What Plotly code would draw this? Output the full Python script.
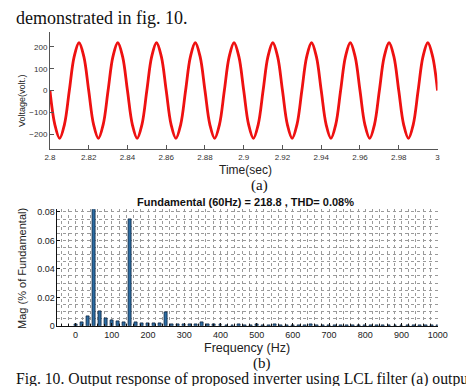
import plotly.graph_objects as go

# ---------------- data ----------------
# (a) output voltage, read at 1/8-period steps (2.5 ms)
time_s = [2.8000, 2.8025, 2.8050, 2.8075, 2.8100, 2.8125, 2.8150, 2.8175,
          2.8200, 2.8225, 2.8250, 2.8275, 2.8300, 2.8325, 2.8350, 2.8375,
          2.8400, 2.8425, 2.8450, 2.8475, 2.8500, 2.8525, 2.8550, 2.8575,
          2.8600, 2.8625, 2.8650, 2.8675, 2.8700, 2.8725, 2.8750, 2.8775,
          2.8800, 2.8825, 2.8850, 2.8875, 2.8900, 2.8925, 2.8950, 2.8975,
          2.9000, 2.9025, 2.9050, 2.9075, 2.9100, 2.9125, 2.9150, 2.9175,
          2.9200, 2.9225, 2.9250, 2.9275, 2.9300, 2.9325, 2.9350, 2.9375,
          2.9400, 2.9425, 2.9450, 2.9475, 2.9500, 2.9525, 2.9550, 2.9575,
          2.9600, 2.9625, 2.9650, 2.9675, 2.9700, 2.9725, 2.9750, 2.9775,
          2.9800, 2.9825, 2.9850, 2.9875, 2.9900, 2.9925, 2.9950, 2.9975,
          3.0000]
voltage_v = [0, -155, -219, -155, 0, 155, 219, 155,
             0, -155, -219, -155, 0, 155, 219, 155,
             0, -155, -219, -155, 0, 155, 219, 155,
             0, -155, -219, -155, 0, 155, 219, 155,
             0, -155, -219, -155, 0, 155, 219, 155,
             0, -155, -219, -155, 0, 155, 219, 155,
             0, -155, -219, -155, 0, 155, 219, 155,
             0, -155, -219, -155, 0, 155, 219, 155,
             0, -155, -219, -155, 0, 155, 219, 155,
             0, -155, -219, -155, 0, 155, 219, 155,
             0]
time_ticks = [2.8, 2.82, 2.84, 2.86, 2.88, 2.9, 2.92, 2.94, 2.96, 2.98, 3.0]
time_tick_text = ["2.8", "2.82", "2.84", "2.86", "2.88", "2.9", "2.92", "2.94", "2.96", "2.98", "3"]
volt_ticks = [-200, -100, 0, 100, 200]

# (b) FFT spectrum
freq_hz = [0, 16.7, 33.3, 50, 66.7, 83.3, 100, 116.7, 133.3, 150,
           166.7, 183.3, 200, 216.7, 233.3, 250, 266.7, 283.3, 300, 316.7,
           333.3, 350, 366.7, 383.3, 400, 416.7, 433.3, 450, 466.7, 483.3,
           500, 516.7, 533.3, 550, 566.7, 583.3, 600, 616.7, 633.3, 650,
           666.7, 683.3, 700, 716.7, 733.3, 750, 766.7, 783.3, 800, 816.7,
           833.3, 850, 866.7, 883.3, 900, 916.7, 933.3, 950, 966.7, 983.3,
           1000]
mag_pct = [0.0008, 0.0028, 0.0067, 0.0818, 0.0100, 0.0055, 0.0040, 0.0032, 0.0028, 0.0745,
           0.0022, 0.0018, 0.0018, 0.0017, 0.0016, 0.0098, 0.0010, 0.0010, 0.0012, 0.0009,
           0.0010, 0.0028, 0.0008, 0.0008, 0.0009, 0.0007, 0.0007, 0.0010, 0.0006, 0.0006,
           0.0008, 0.0006, 0.0006, 0.0009, 0.0005, 0.0005, 0.0007, 0.0005, 0.0005, 0.0008,
           0.0005, 0.0005, 0.0006, 0.0005, 0.0005, 0.0007, 0.0005, 0.0005, 0.0006, 0.0005,
           0.0005, 0.0006, 0.0005, 0.0005, 0.0005, 0.0005, 0.0005, 0.0006, 0.0005, 0.0005,
           0.0005]
freq_ticks = [0, 100, 200, 300, 400, 500, 600, 700, 800, 900, 1000]
mag_ticks = [0, 0.02, 0.04, 0.06, 0.08]
mag_tick_text = ["0", "0.02", "0.04", "0.06", "0.08"]

# ---------------- figure ----------------
W, H = 474, 386
def py(pix):
    return 1 - pix / H

SANS = "Liberation Sans, Arial, sans-serif"
SERIF = "Liberation Serif, Times New Roman, serif"

fig = go.Figure()
fig.add_trace(go.Scatter(x=time_s, y=voltage_v, mode="lines",
                         line=dict(color="#ee1111", width=2.8, shape="spline", smoothing=1.0),
                         xaxis="x", yaxis="y", showlegend=False, hoverinfo="skip"))
fig.add_trace(go.Bar(x=freq_hz, y=mag_pct, width=8,
                     marker=dict(color="#2b6ca3", line=dict(color="#0d2540", width=0.8)),
                     xaxis="x2", yaxis="y2", showlegend=False))

grid = dict(gridcolor="#9a9a9a", gridwidth=1, griddash="dot")

fig.update_layout(
    width=W, height=H,
    margin=dict(l=0, r=0, t=0, b=0),
    paper_bgcolor="white", plot_bgcolor="white",
    font=dict(family=SANS, color="#222"),
    xaxis=dict(domain=[37.2 / W, 438.3 / W], range=[2.8, 3.0],
               tickvals=time_ticks, ticktext=time_tick_text,
               showline=True, linecolor="#555", linewidth=1,
               ticks="inside", ticklen=4, tickcolor="#555",
               tickfont=dict(size=8, family=SANS, color="#333"),
               showgrid=False, zeroline=False, anchor="y"),
    yaxis=dict(domain=[py(142), py(22)], range=[-270, 270],
               tickvals=volt_ticks,
               showline=True, linecolor="#555", linewidth=1,
               ticks="inside", ticklen=4, tickcolor="#555",
               tickfont=dict(size=8, family=SANS, color="#333"),
               showgrid=False, zeroline=False, anchor="x"),
    xaxis2=dict(domain=[45 / W, 438.5 / W], range=[-50, 1000],
                tickvals=freq_ticks,
                showline=True, linecolor="#111", linewidth=1,
                ticks="inside", ticklen=3, tickcolor="#111",
                tickfont=dict(size=9, family=SANS, color="#222"),
                showgrid=True, zeroline=False, anchor="y2",
                minor=dict(dtick=20, tick0=0, showgrid=True, ticks="inside", ticklen=2,
                           tickcolor="#111", **grid),
                **grid),
    yaxis2=dict(domain=[py(321.7), py(203)], range=[0, 0.0818],
                tickvals=mag_ticks, ticktext=mag_tick_text,
                showline=True, linecolor="#111", linewidth=1,
                ticks="inside", ticklen=3, tickcolor="#111",
                tickfont=dict(size=9, family=SANS, color="#222"),
                showgrid=True, zeroline=False, anchor="x2",
                minor=dict(dtick=0.005, tick0=0, showgrid=True, ticks="", **grid),
                **grid),
    bargap=0,
)

ann = [
    dict(text="demonstrated in fig. 10.", x=0, y=py(8.5), xanchor="left", yanchor="middle",
         font=dict(family=SERIF, size=18, color="#111")),
    dict(text="Voltage(volt.)", x=9 / W, y=py(92), textangle=-90, xanchor="center", yanchor="middle",
         font=dict(family=SANS, size=9, color="#222")),
    dict(text="Time(sec)", x=240 / W, y=py(163), xanchor="center", yanchor="middle",
         font=dict(family=SANS, size=12, color="#222")),
    dict(text="(a)", x=254 / W, y=py(179), xanchor="center", yanchor="middle",
         font=dict(family=SERIF, size=15, color="#111")),
    dict(text="<b>Fundamental (60Hz) = 218.8 , THD= 0.08%</b>", x=240 / W, y=py(196),
         xanchor="center", yanchor="middle", font=dict(family=SANS, size=11, color="#111")),
    dict(text="Mag (% of Fundamental)", x=9 / W, y=py(263), textangle=-90, xanchor="center",
         yanchor="middle", font=dict(family=SANS, size=11, color="#222")),
    dict(text="Frequency (Hz)", x=241 / W, y=py(344), xanchor="center", yanchor="middle",
         font=dict(family=SANS, size=12.5, color="#222")),
    dict(text="(b)", x=257 / W, y=py(360), xanchor="center", yanchor="middle",
         font=dict(family=SERIF, size=15, color="#111")),
    dict(text="Fig. 10. Output response of proposed inverter using LCL filter (a) output",
         x=0, y=py(375.5), xanchor="left", yanchor="middle",
         font=dict(family=SERIF, size=15.7, color="#111")),
]
for a in ann:
    a.update(xref="paper", yref="paper", showarrow=False)
fig.update_layout(annotations=ann)

fig.write_html("out.html")
